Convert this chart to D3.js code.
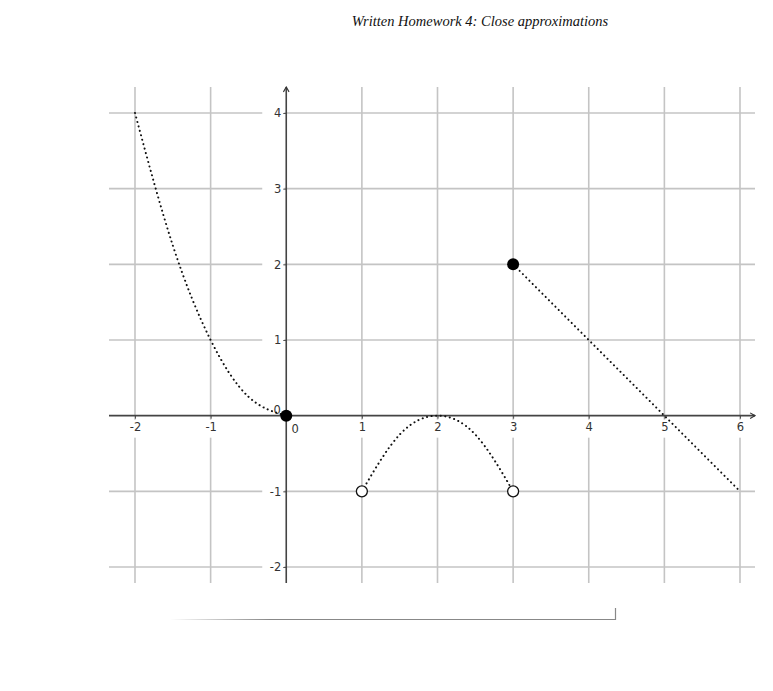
<!DOCTYPE html>
<html lang="en">
<head>
    <meta charset="UTF-8">
    <title>Written Homework 4</title>
    <script src="https://cdn.jsdelivr.net/npm/d3@7"></script>
    <style>
        body { margin: 0; background: white; }
        svg { display: block; }
    </style>
</head>
<body>
<svg width="773" height="691"></svg>
<script>
    // values
    var xTicks = [-2, -1, 0, 1, 2, 3, 4, 5, 6];
    var yTicks = [-2, -1, 0, 1, 2, 3, 4];
    var leftCurve = [[-2, 4], [-1.5, 2.25], [-1, 1], [-0.5, 0.25], [0, 0]];
    var midCurve = [[1, -1], [1.5, -0.25], [2, 0], [2.5, -0.25], [3, -1]];
    var rightLine = [[3, 2], [6, -1]];
    var filledDots = [[0, 0], [3, 2]];
    var openDots = [[1, -1], [3, -1]];

    var svg = d3.select("svg");

    var x = d3.scaleLinear().domain([-2, 6]).range([135, 740]);
    var y = d3.scaleLinear().domain([-2, 4]).range([567, 113]);

    var gridTop = 87, gridBottom = 583, gridLeft = 109, gridRight = 755;
    var labelFont = "DejaVu Sans, sans-serif";

    svg.append("text")
        .attr("x", 480)
        .attr("y", 26)
        .attr("text-anchor", "middle")
        .attr("font-family", "Liberation Serif, serif")
        .attr("font-style", "italic")
        .attr("font-size", 14.5)
        .attr("fill", "#111")
        .text("Written Homework 4: Close approximations");

    // grid
    var grid = svg.append("g").attr("class", "grid")
        .attr("stroke", "#c4c4c4").attr("stroke-width", 1.6);
    grid.selectAll(".v").data(xTicks.filter(function (d) { return d !== 0; }))
        .enter().append("line")
        .attr("x1", function (d) { return x(d); })
        .attr("x2", function (d) { return x(d); })
        .attr("y1", gridTop).attr("y2", gridBottom);
    grid.selectAll(".h").data(yTicks.filter(function (d) { return d !== 0; }))
        .enter().append("line")
        .attr("x1", gridLeft).attr("x2", gridRight)
        .attr("y1", function (d) { return y(d); })
        .attr("y2", function (d) { return y(d); });

    // white boxes behind labels
    var masks = svg.append("g").attr("fill", "white");
    masks.selectAll(".mx").data(xTicks.filter(function (d) { return d !== 0; }))
        .enter().append("rect")
        .attr("x", function (d) { return x(d) - 9; })
        .attr("y", y(0) + 4)
        .attr("width", 18).attr("height", 18);
    masks.selectAll(".my").data(yTicks.filter(function (d) { return d !== 0; }))
        .enter().append("rect")
        .attr("x", x(0) - 24)
        .attr("y", function (d) { return y(d) - 8; })
        .attr("width", 22).attr("height", 16);

    // arrow marker
    svg.append("defs").append("marker")
        .attr("id", "arrow")
        .attr("viewBox", "0 0 10 10")
        .attr("refX", 9).attr("refY", 5)
        .attr("markerWidth", 7).attr("markerHeight", 7)
        .attr("markerUnits", "userSpaceOnUse")
        .attr("orient", "auto")
        .append("path")
        .attr("d", "M2,1 L9,5 L2,9")
        .attr("fill", "none")
        .attr("stroke", "#333")
        .attr("stroke-width", 1.6);

    // axes
    var xAxis = svg.append("g")
        .attr("transform", "translate(0," + y(0) + ")")
        .call(d3.axisBottom(x)
            .tickValues(xTicks.filter(function (d) { return d !== 0; }))
            .tickSize(3)
            .tickFormat(function (d) { return String(d); }));
    xAxis.select(".domain").remove();
    xAxis.selectAll(".tick line").attr("stroke", "#555");
    xAxis.selectAll(".tick text")
        .attr("y", 7).attr("dy", "0.75em")
        .attr("font-family", labelFont).attr("font-size", 11.5).attr("fill", "#333");

    var yAxis = svg.append("g")
        .attr("transform", "translate(" + x(0) + ",0)")
        .call(d3.axisLeft(y)
            .tickValues(yTicks.filter(function (d) { return d !== 0; }))
            .tickSize(3)
            .tickFormat(function (d) { return String(d); }));
    yAxis.select(".domain").remove();
    yAxis.selectAll(".tick line").attr("stroke", "#555");
    yAxis.selectAll(".tick text")
        .attr("x", -5)
        .attr("font-family", labelFont).attr("font-size", 11.5).attr("fill", "#333");

    svg.append("text")
        .attr("x", x(0) - 9).attr("y", y(0) - 2)
        .attr("text-anchor", "middle")
        .attr("font-family", labelFont)
        .attr("font-size", 11.5).attr("fill", "#333")
        .text("0");
    svg.append("text")
        .attr("x", x(0) + 9).attr("y", y(0) + 17)
        .attr("text-anchor", "middle")
        .attr("font-family", labelFont)
        .attr("font-size", 11.5).attr("fill", "#333")
        .text("0");

    svg.append("line")
        .attr("x1", gridLeft).attr("x2", gridRight)
        .attr("y1", y(0)).attr("y2", y(0))
        .attr("stroke", "#444").attr("stroke-width", 1.6)
        .attr("marker-end", "url(#arrow)");
    svg.append("line")
        .attr("x1", x(0)).attr("x2", x(0))
        .attr("y1", gridBottom).attr("y2", gridTop)
        .attr("stroke", "#444").attr("stroke-width", 1.6)
        .attr("marker-end", "url(#arrow)");

    // curves
    var line = d3.line()
        .x(function (d) { return x(d[0]); })
        .y(function (d) { return y(d[1]); })
        .curve(d3.curveNatural);

    svg.selectAll(".curve").data([leftCurve, midCurve, rightLine])
        .enter().append("path")
        .attr("d", line)
        .attr("fill", "none")
        .attr("stroke", "#111")
        .attr("stroke-width", 2)
        .attr("stroke-linecap", "round")
        .attr("stroke-dasharray", "0.1 4.5");

    svg.selectAll(".filled").data(filledDots)
        .enter().append("circle")
        .attr("cx", function (d) { return x(d[0]); })
        .attr("cy", function (d) { return y(d[1]); })
        .attr("r", 6)
        .attr("fill", "black");

    svg.selectAll(".open").data(openDots)
        .enter().append("circle")
        .attr("cx", function (d) { return x(d[0]); })
        .attr("cy", function (d) { return y(d[1]); })
        .attr("r", 5.5)
        .attr("fill", "white")
        .attr("stroke", "#111")
        .attr("stroke-width", 1.3);

    // bottom rule with fade on the left
    var grad = svg.select("defs").append("linearGradient")
        .attr("id", "fade")
        .attr("gradientUnits", "userSpaceOnUse")
        .attr("x1", 170).attr("x2", 270).attr("y1", 0).attr("y2", 0);
    grad.append("stop").attr("offset", 0).attr("stop-color", "#ffffff");
    grad.append("stop").attr("offset", 1).attr("stop-color", "#888888");

    svg.append("path")
        .attr("d", "M170,619.5 L615.5,619.5 L615.5,608")
        .attr("fill", "none")
        .attr("stroke", "url(#fade)")
        .attr("stroke-width", 1.2);
</script>
</body>
</html>
